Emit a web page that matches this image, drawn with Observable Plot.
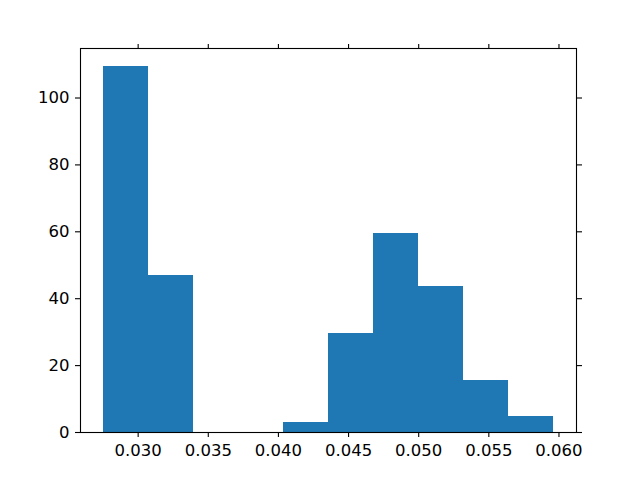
<!DOCTYPE html>
<html>
<head>
<meta charset="utf-8">
<script src="https://cdn.jsdelivr.net/npm/d3@7"></script>
<script src="https://cdn.jsdelivr.net/npm/@observablehq/plot@0.6"></script>
<style>
  html, body { margin: 0; padding: 0; background: #fff; }
  svg { display: block; }
</style>
</head>
<body>
<div id="chart"></div>
<script>
const binStarts = [0.02750, 0.03071, 0.03393, 0.03714, 0.04036, 0.04357, 0.04679, 0.05000, 0.05321, 0.05643];
const binEnds   = [0.03071, 0.03393, 0.03714, 0.04036, 0.04357, 0.04679, 0.05000, 0.05321, 0.05643, 0.05964];
const counts    = [109.3, 46.9, 0, 0, 3.0, 29.6, 59.5, 43.6, 15.6, 4.8];
const xTicks = [0.030, 0.035, 0.040, 0.045, 0.050, 0.055, 0.060];
const yTicks = [0, 20, 40, 60, 80, 100];

const bins = binStarts.map((s, i) => ({x1: s, x2: binEnds[i], y: counts[i]}));

const chart = Plot.plot({
  width: 640,
  height: 480,
  marginLeft: 80,
  marginRight: 64,
  marginTop: 48,
  marginBottom: 48,
  style: {fontFamily: "DejaVu Sans", fontSize: "16.5px", color: "black", background: "white"},
  x: {domain: [0.02589, 0.06125]},
  y: {domain: [0, 114.8]},
  marks: [
    Plot.rectY(bins, {x1: "x1", x2: "x2", y: "y", fill: "#1f77b4", inset: 0, shapeRendering: "crispEdges"}),
    Plot.axisX({anchor: "bottom", ticks: xTicks, tickFormat: d3.format(".3f"), tickSize: 5, tickPadding: 7, label: null, stroke: "black", strokeWidth: 1.1}),
    Plot.axisX({anchor: "top", ticks: xTicks, tickFormat: () => "", tickSize: 5, label: null, stroke: "black", strokeWidth: 1.1}),
    Plot.axisY({anchor: "left", ticks: yTicks, tickFormat: d3.format("d"), tickSize: 5, tickPadding: 6, label: null, stroke: "black", strokeWidth: 1.1}),
    Plot.axisY({anchor: "right", ticks: yTicks, tickFormat: () => "", tickSize: 5, label: null, stroke: "black", strokeWidth: 1.1}),
    Plot.frame({stroke: "black", strokeWidth: 1.1})
  ]
});
document.getElementById("chart").appendChild(chart);
</script>
</body>
</html>
